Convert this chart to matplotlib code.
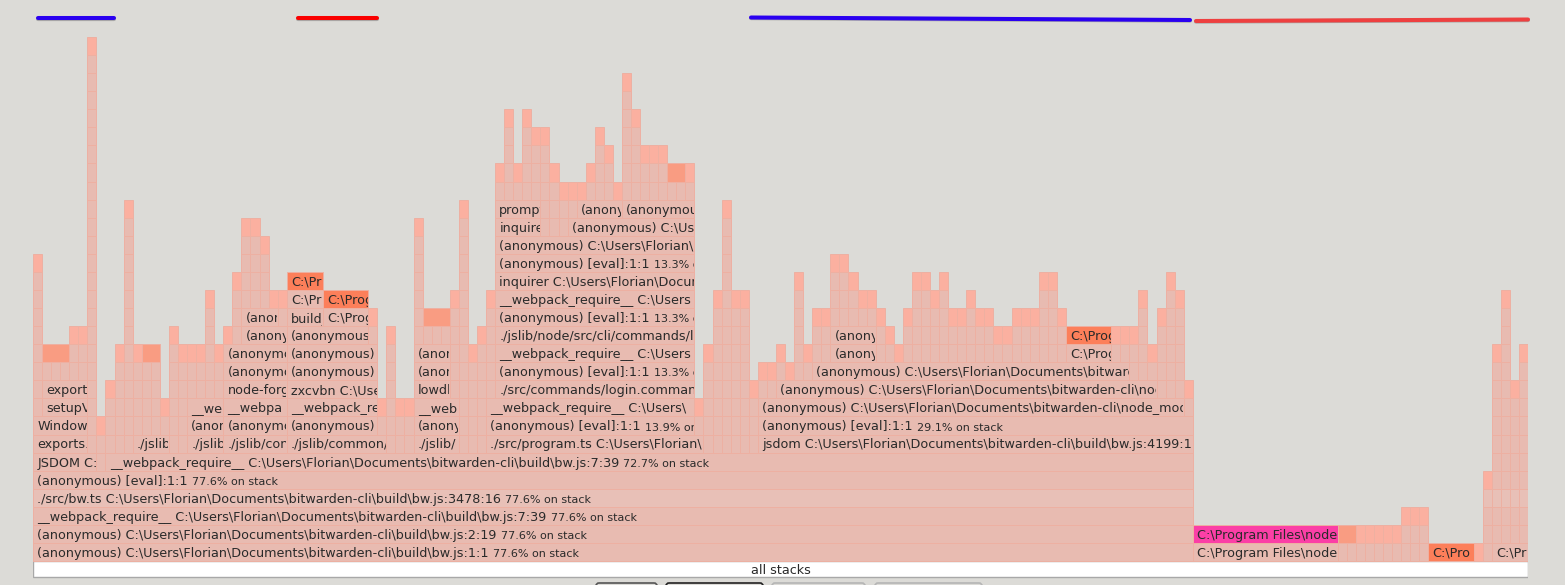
import matplotlib
matplotlib.use("Agg")
import matplotlib.pyplot as plt
from matplotlib.transforms import Bbox, TransformedBbox
from matplotlib.patches import FancyBboxPatch

W, H = 1565, 585
LEFT, RIGHT, BASE, PITCH = 33, 1528, 561, 18.07

BG = "#dcdbd7"
CELL = "#e8bbb1"
CELL_LIGHT = "#e8c0b7"
EDGE = "#eeb0a2"
LEAF = "#fbb0a0"
WARM = "#f99c82"
HOT = "#fc7f5a"
PINK = "#fb3fa6"
TEXT = "#2a2a2a"

# stack depth of every sample
depths = [
    17, 12, 12, 12, 13, 13, 29, 8, 10, 12, 20, 12, 12, 12, 9, 13, 12, 12, 12, 15,
    12, 13, 16, 19, 19, 18, 15, 15, 16, 16, 16, 16, 15, 15, 15, 15, 15, 14, 9, 13,
    9, 9, 19, 14, 14, 14, 15, 20, 12, 13, 15, 22, 25, 22, 25, 24, 24, 22, 21, 21,
    21, 22, 24, 23, 21, 27, 25, 23, 23, 23, 22, 22, 22, 9, 12, 15, 20, 15, 15, 10,
    11, 11, 12, 11, 16, 12, 14, 14, 17, 17, 16, 15, 15, 14, 13, 12, 14, 16, 16, 15,
    16, 14, 14, 15, 14, 14, 13, 13, 14, 14, 14, 16, 16, 14, 13, 13, 13, 13, 13, 13,
    13, 13, 15, 12, 14, 16, 15, 10, 2, 2, 2, 2, 2, 2, 2, 2, 2, 2, 2, 2, 2, 2,
    2, 2, 2, 2, 2, 2, 2, 2, 2, 3, 3, 3, 1, 1, 1, 1, 1, 1, 5, 12, 15, 10, 12,
]

BW = r"C:\Users\Florian\Documents\bitwarden-cli\build\bw.js"
DOCS = r"C:\Users\Florian\Documents\bitwarden-cli"
ANON = "(anonymous)"
WEBPACK = "__webpack_require__"

# merged frames of each stack level: start sample, end sample, visible label, share on stack
row_0 = [(0, 128, f"{ANON} {BW}:1:1", "77.6% on stack"),
         (128, 144, r"C:\Program Files\node", ""),
         (154, 159, r"C:\Pro", ""),
         (161, 165, r"C:\Pr", "")]
row_1 = [(0, 128, f"{ANON} {BW}:2:19", "77.6% on stack"),
         (128, 144, r"C:\Program Files\node", ""),
         (144, 146, "", "")]
row_2 = [(0, 128, f"{WEBPACK} {BW}:7:39", "77.6% on stack")]
row_3 = [(0, 128, rf"./src/bw.ts {BW}:3478:16", "77.6% on stack")]
row_4 = [(0, 128, f"{ANON} [eval]:1:1", "77.6% on stack")]
row_5 = [(0, 7, "JSDOM C:", ""),
         (8, 128, f"{WEBPACK} {BW}:7:39", "72.7% on stack")]
row_6 = [(0, 6, "exports.", ""), (11, 15, "./jslib", ""),
         (17, 21, "./jslib", ""), (21, 28, "./jslib/con", ""),
         (28, 39, "./jslib/common/", ""), (42, 47, "./jslib/", ""),
         (50, 74, "./src/program.ts C:\\Users\\Florian\\", ""),
         (80, 128, rf"jsdom {BW}:4199:16", "")]
row_7 = [(0, 6, "Window", ""), (17, 21, "(anon", ""), (21, 28, "(anonymo", ""),
         (28, 38, ANON, ""), (42, 47, "(anony", ""),
         (50, 73, f"{ANON} [eval]:1:1", "13.9% on"),
         (80, 128, f"{ANON} [eval]:1:1", "29.1% on stack")]
row_8 = [(1, 6, "setupV", ""), (17, 21, "__we", ""), (21, 28, "__webpa", ""),
         (28, 38, "__webpack_re", ""), (42, 47, "__web", ""),
         (50, 73, f"{WEBPACK} C:\\Users\\", ""),
         (80, 127, rf"{ANON} {DOCS}\node_mod", "")]
row_9 = [(1, 6, "export", ""), (21, 28, "node-forg", ""),
         (28, 38, r"zxcvbn C:\Use", ""), (42, 46, "lowdl", ""),
         (51, 73, "./src/commands/login.command", ""),
         (82, 124, rf"{ANON} {DOCS}\node", "")]
row_10 = [(21, 28, "(anonymo", ""), (28, 38, ANON, ""), (42, 46, "(anon", ""),
          (51, 73, f"{ANON} [eval]:1:1", "13.3% o"),
          (86, 121, rf"{ANON} C:\Users\Florian\Documents\bitward", "")]
row_11 = [(1, 4, "", ""), (12, 14, "", ""), (21, 28, "(anonymo", ""), (28, 38, ANON, ""),
          (42, 46, "(anon", ""), (51, 73, rf"{WEBPACK} C:\Users", ""),
          (88, 93, "(anony", ""), (114, 119, r"C:\Prog", "")]
row_12 = [(23, 28, "(anony", ""), (28, 37, "(anonymous", ""),
          (51, 73, "./jslib/node/src/cli/commands/lo", ""),
          (88, 93, "(anony", ""), (114, 119, r"C:\Prog", "")]
row_13 = [(23, 27, "(anon", ""), (28, 32, "build_", ""), (32, 37, r"C:\Prog", ""),
          (43, 46, "", ""), (51, 73, f"{ANON} [eval]:1:1", "13.3% o")]
row_14 = [(28, 32, r"C:\Pr", ""), (32, 37, r"C:\Prog", ""),
          (51, 73, rf"{WEBPACK} C:\Users", "")]
row_15 = [(28, 32, r"C:\Pr", ""), (51, 73, r"inquirer C:\Users\Florian\Docum", "")]
row_16 = [(51, 73, f"{ANON} [eval]:1:1", "13.3% o")]
row_17 = [(51, 73, f"{ANON} C:\\Users\\Florian\\", "")]
row_18 = [(51, 56, "inquire", ""), (59, 73, rf"{ANON} C:\Users", "")]
row_19 = [(51, 56, "prompt", ""), (60, 65, "(anony", ""), (65, 73, "(anonymous", "")]
row_21 = [(70, 72, "", "")]

rows = {0: row_0, 1: row_1, 2: row_2, 3: row_3, 4: row_4, 5: row_5, 6: row_6,
        7: row_7, 8: row_8, 9: row_9, 10: row_10, 11: row_11, 12: row_12, 13: row_13,
        14: row_14, 15: row_15, 16: row_16, 17: row_17, 18: row_18, 19: row_19, 21: row_21}

# (level, start sample) of frames with more self time
warm_frames = [(11, 1), (11, 12), (13, 43), (21, 70), (1, 144)]
hot_frames = [(15, 28), (14, 32), (12, 114), (0, 154)]
pink_frames = [(1, 128)]

# hand drawn marks above the chart: x ends, y ends, colour
mark_x = [[38, 114], [298, 377], [751, 1190], [1196, 1528]]
mark_y = [[18, 18], [18, 18], [17.5, 20], [21, 19.5]]
mark_colors = ["#2a00f0", "#fa0000", "#2a00f0", "#ee4040"]

# tops of the buttons under the chart
button_x = [[596, 657], [666, 763], [772, 865], [875, 982]]
button_colors = ["#555555", "#222222", "#b5b5b5", "#b5b5b5"]

fig = plt.figure(figsize=(W / 100, H / 100), dpi=100, facecolor=BG)
ax = fig.add_axes([LEFT / W, 0, (RIGHT - LEFT) / W, 1])
ax.set_xlim(0, len(depths))
ax.set_ylim(-(H - BASE) / PITCH, BASE / PITCH)
ax.axis("off")

overlay = fig.add_axes([0, 0, 1, 1], zorder=5)
overlay.set_xlim(0, W)
overlay.set_ylim(H, 0)
overlay.axis("off")


def frame_color(level, start):
    if (level, start) in pink_frames:
        return PINK
    if (level, start) in hot_frames:
        return HOT
    if (level, start) in warm_frames:
        return WARM
    if level == depths[start] - 1:
        return LEAF
    if level == 3:
        return CELL_LIGHT
    return CELL


# single cells wherever no merged frame covers the sample
covered = set()
for level, frames in rows.items():
    for start, end, _, _ in frames:
        covered.update((level, s) for s in range(start, end))

for s, depth in enumerate(depths):
    for level in range(depth):
        if (level, s) not in covered:
            ax.bar(s, 1, width=1, bottom=level, align="edge", color=frame_color(level, s),
                   edgecolor=EDGE, linewidth=0.7, zorder=2)

renderer = fig.canvas.get_renderer()
for level, frames in rows.items():
    for start, end, label, stat in frames:
        ax.bar(start, 1, width=end - start, bottom=level, align="edge",
               color=frame_color(level, start), edgecolor=EDGE, linewidth=0.7, zorder=3)
        if not label:
            continue
        clip = TransformedBbox(Bbox([[start, level], [end - 0.05, level + 1]]), ax.transData)
        t = ax.text(start + 0.47, level + 0.42, label, fontsize=9.15, color=TEXT,
                    va="center", ha="left", zorder=4, clip_on=True)
        t.set_clip_box(clip)
        if stat:
            x1 = t.get_window_extent(renderer).x1
            sx = ax.transData.inverted().transform((x1 + 4, 0))[0]
            st = ax.text(sx, level + 0.38, stat, fontsize=8.0, color=TEXT,
                         va="center", ha="left", zorder=4, clip_on=True)
            st.set_clip_box(clip)

# root frame
root_h = 16 / PITCH
ax.bar(0, root_h, width=len(depths), bottom=-root_h, align="edge", color="white",
       edgecolor="#a8a8a8", linewidth=1, zorder=1)
ax.text(len(depths) / 2, -root_h / 2 - 0.06, "all stacks", fontsize=9.15, color=TEXT,
        ha="center", va="center", zorder=4)

for xs, ys, c in zip(mark_x, mark_y, mark_colors):
    overlay.plot(xs, [y + 0.6 for y in ys], color="#777777", lw=3, solid_capstyle="round", alpha=0.5)
    overlay.plot(xs, ys, color=c, lw=2.9, solid_capstyle="round")

for xs, c in zip(button_x, button_colors):
    overlay.add_patch(FancyBboxPatch((xs[0], 583), xs[1] - xs[0], 10,
                                     boxstyle="round,pad=0,rounding_size=3",
                                     facecolor=BG, edgecolor=c, linewidth=1.2))

fig.savefig("out.png", dpi=100, facecolor=BG)
